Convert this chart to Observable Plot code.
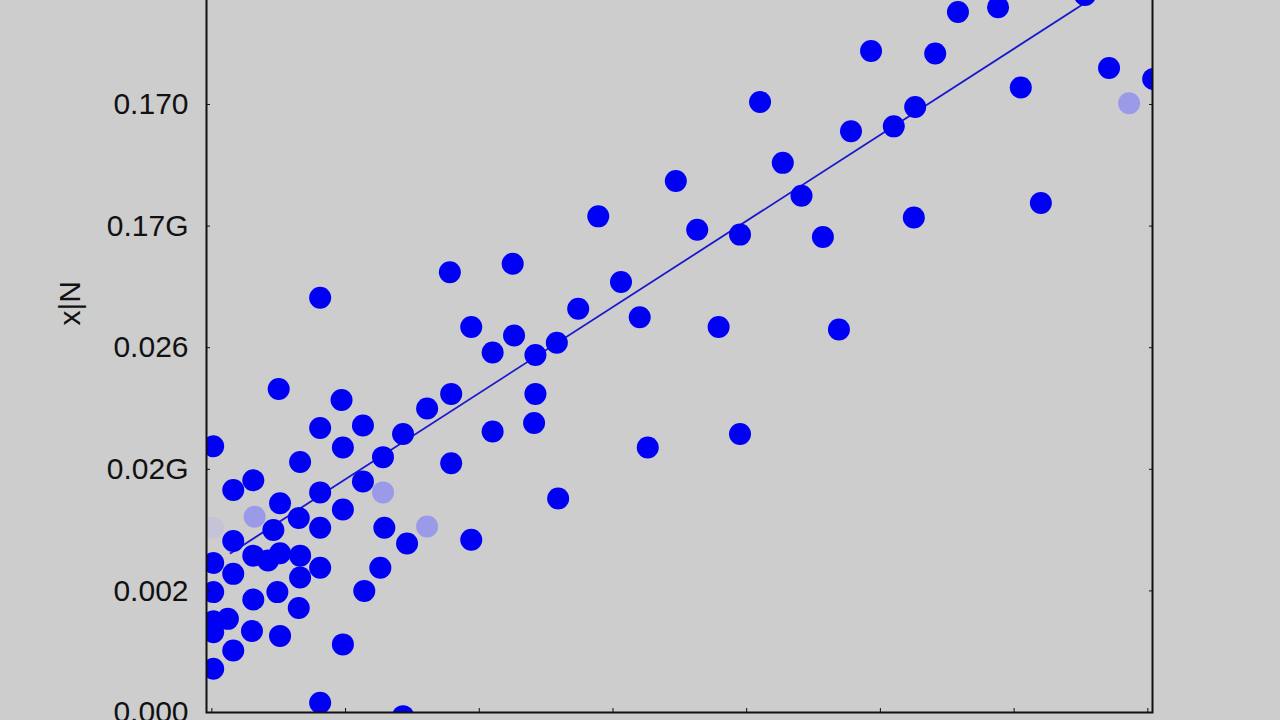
<!DOCTYPE html>
<html>
<head>
<meta charset="utf-8">
<script src="https://cdn.jsdelivr.net/npm/d3@7"></script>
<script src="https://cdn.jsdelivr.net/npm/@observablehq/plot@0.6"></script>
<style>
  html, body { margin: 0; padding: 0; background: #cdcdcd; overflow: hidden; }
  #chart { width: 1280px; height: 720px; }
</style>
</head>
<body>
<div id="chart"></div>
<script>
// ---- data ----
const pointX = [5.58, 5.88, 6.53, 6.71, 7.04, 6.86, 6.05, 6.20, 4.93, 5.41,
  4.10, 5.26, 5.10, 4.78, 4.27, 4.41, 3.47, 5.25, 2.89, 3.63,
  3.95, 4.57, 1.78, 2.25, 0.81, 3.06, 2.74, 3.20, 3.79, 4.69,
  1.94, 2.26, 2.10, 2.58, 2.42, 0.50, 0.97, 1.79, 2.42, 1.61,
  0.81, 1.13, 2.41, 0.01, 0.98, 1.43, 2.10, 3.26, 3.95, 0.66,
  1.28, 1.79, 0.16, 0.31, 0.81, 1.13, 1.28, 2.59, 0.51, 0.98,
  0.32, 0.01, 0.65, 0.46, 0.81, 1.29, 1.61, 0.16, 1.94, 1.46,
  0.01, 0.31, 0.42, 0.51, 0.66, 0.16, 0.66, 0.81, 1.26, 0.01,
  0.31, 0.49, 1.14, 0.01, 0.12, 0.01, 0.65, 0.30, 0.51, 0.98,
  0.16, 0.01, 0.81, 1.43];
const pointY = [5.76, 5.80, 5.90, 5.30, 5.21, 5.01, 5.14, 4.19, 5.44, 5.42,
  5.02, 4.98, 4.82, 4.78, 4.52, 4.25, 4.37, 4.07, 4.08, 3.97,
  3.93, 3.91, 3.62, 3.69, 3.41, 3.54, 3.32, 3.25, 3.17, 3.15,
  3.17, 3.10, 2.96, 3.04, 2.94, 2.66, 2.57, 2.62, 2.62, 2.50,
  2.34, 2.36, 2.38, 2.19, 2.18, 2.29, 2.31, 2.18, 2.29, 2.06,
  2.10, 2.05, 1.83, 1.91, 1.81, 1.90, 1.81, 1.76, 1.72, 1.67,
  1.61, 1.52, 1.60, 1.50, 1.52, 1.52, 1.53, 1.41, 1.42, 1.39,
  1.23, 1.29, 1.25, 1.31, 1.29, 1.14, 1.11, 1.19, 1.19, 0.99,
  0.93, 0.99, 1.00, 0.75, 0.77, 0.66, 0.86, 0.67, 0.63, 0.56,
  0.51, 0.36, 0.08, -0.03];
// point groups: s = solid, f = faint, g = ghost
const pointGroup = ["s","s","s","s","s","f","s","s","s","s",
  "s","s","s","s","s","s","s","s","s","s",
  "s","s","s","s","s","s","s","s","s","s",
  "s","s","s","s","s","s","s","s","s","s",
  "s","s","s","s","s","s","s","s","s","s",
  "s","s","s","s","s","s","f","s","s","s",
  "f","g","s","s","s","s","f","s","s","s",
  "s","s","s","s","s","s","s","s","s","s",
  "s","s","s","s","s","s","s","s","s","s",
  "s","s","s","s"];
const fitX = [0.14, 6.65];
const fitY = [1.31, 5.92];
const yTicks = [0, 1, 2, 3, 4, 5];
const yTickLabels = ["0.000", "0.002", "0.02G", "0.026", "0.17G", "0.170"];
const xTicks = [0, 1, 2, 3, 4, 5, 6, 7];
const yLabel = ["x|N"];

const points = pointX.map((x, i) => ({x, y: pointY[i], g: pointGroup[i]}));
const fit = fitX.map((x, i) => ({x, y: fitY[i]}));

const plot = Plot.plot({
  width: 1280,
  height: 720,
  marginLeft: 206,
  marginRight: 128,
  marginTop: -4,
  marginBottom: 8,
  style: {background: "#cdcdcd", color: "#111", fontFamily: "'Liberation Sans', Arial, sans-serif"},
  x: {domain: [-0.04, 7.035], label: null},
  y: {domain: [0, 5.888], label: null},
  color: {domain: ["s", "f", "g"], range: ["#0000f5", "#9a9ae8", "#c4c4d6"]},
  marks: [
    Plot.line(fit, {x: "x", y: "y", stroke: "#1a1acc", strokeWidth: 1.8, clip: true}),
    Plot.dot(points, {x: "x", y: "y", r: 11, fill: "g", stroke: null, clip: true}),
    Plot.axisY({anchor: "left", ticks: yTicks, tickFormat: i => yTickLabels[i], tickSize: -4, tickPadding: 22, fontSize: 30, label: null}),
    Plot.axisY({anchor: "right", ticks: yTicks, tickSize: -4, fill: "none", label: null}),
    Plot.axisX({anchor: "bottom", ticks: xTicks, tickSize: -4, fill: "none", label: null}),
    Plot.frame({stroke: "#111", strokeWidth: 2}),
    Plot.text(yLabel, {text: d => d, frameAnchor: "left", dx: -136, dy: -29, rotate: -90, fontSize: 30, fill: "#111"})
  ]
});
document.getElementById("chart").appendChild(plot);
</script>
</body>
</html>
